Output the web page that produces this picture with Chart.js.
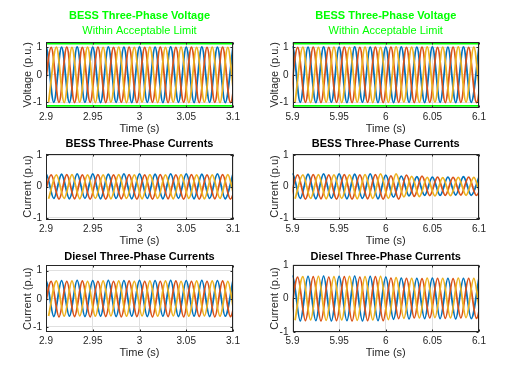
<!DOCTYPE html>
<html>
<head>
<meta charset="utf-8">
<script src="https://cdn.jsdelivr.net/npm/chart.js@4.4.1/dist/chart.umd.min.js"></script>
<style>
  html, body { margin: 0; padding: 0; background: #fff; }
  #fig { position: relative; width: 510px; height: 373px; overflow: hidden; }
  #fig canvas { position: absolute; }
</style>
</head>
<body>
<div id="fig">
  <canvas id="vLeft"></canvas>
  <canvas id="vRight"></canvas>
  <canvas id="iBessLeft"></canvas>
  <canvas id="iBessRight"></canvas>
  <canvas id="iDieselLeft"></canvas>
  <canvas id="iDieselRight"></canvas>
</div>
<script>
// Time axis ticks (s)
const leftTicks = [2.9, 2.95, 3, 3.05, 3.1];
const leftTickLabels = ['2.9', '2.95', '3', '3.05', '3.1'];
const rightTicks = [5.9, 5.95, 6, 6.05, 6.1];
const rightTickLabels = ['5.9', '5.95', '6', '6.05', '6.1'];
const yTicks = [-1, 0, 1];
const yTickLabels = ['-1', '0', '1'];

// Waveforms are stored as peak / trough values, one per half cycle (60 Hz)
const HALF_CYCLE = 1 / 120;
const PHASE_SHIFT = [0, 1 / 180, 2 / 180]; // phase a, b, c

// BESS voltage (p.u.), window 2.9 - 3.1 s
const vBessLeftA = [-1.01, 1.02, -1.01, 1.01, -1.02, 1.02, -1.01, 1.01, -1.02, 1.02, -1.01, 1.01, -1.02, 1.02, -1.01, 1.01, -1.02, 1.02, -1.01, 1.01, -1.02, 1.02, -1.01, 1.01, -1.02, 1.02];
const vBessLeftB = [-1.02, 1.00, -1.01, 1.01, -1.02, 1.00, -1.01, 1.01, -1.02, 1.00, -1.01, 1.01, -1.02, 1.00, -1.01, 1.01, -1.02, 1.00, -1.01, 1.01, -1.02, 1.00, -1.01, 1.01, -1.02, 1.00];
const vBessLeftC = [-1.00, 1.01, -1.02, 1.00, -1.00, 1.01, -1.02, 1.00, -1.00, 1.01, -1.02, 1.00, -1.00, 1.01, -1.02, 1.00, -1.00, 1.01, -1.02, 1.00, -1.00, 1.01, -1.02, 1.00, -1.00, 1.01];

// BESS voltage (p.u.), window 5.9 - 6.1 s
const vBessRightA = [-1.01, 1.02, -1.01, 1.01, -1.02, 1.02, -1.01, 1.01, -1.02, 1.02, -1.01, 1.01, -1.02, 1.01, -1.02, 1.02, -1.01, 1.01, -1.02, 1.02, -1.01, 1.01, -1.02, 1.02, -1.01, 1.01];
const vBessRightB = [-1.02, 1.00, -1.01, 1.01, -1.02, 1.00, -1.01, 1.01, -1.02, 1.00, -1.01, 1.01, -1.02, 1.01, -1.01, 1.00, -1.02, 1.01, -1.01, 1.00, -1.02, 1.01, -1.01, 1.00, -1.02, 1.01];
const vBessRightC = [-1.00, 1.01, -1.02, 1.00, -1.00, 1.01, -1.02, 1.00, -1.00, 1.01, -1.02, 1.00, -1.01, 1.02, -1.00, 1.01, -1.01, 1.02, -1.00, 1.01, -1.01, 1.02, -1.00, 1.01, -1.01, 1.02];

// Acceptable voltage band (p.u.)
const voltageLimits = [1.14, -1.14];

// BESS current (p.u.)
const iBessLeftA = [-0.38, 0.40, -0.38, 0.39, -0.39, 0.40, -0.38, 0.40, -0.39, 0.39, -0.38, 0.40, -0.39, 0.40, -0.38, 0.39, -0.39, 0.40, -0.38, 0.40, -0.39, 0.39, -0.38, 0.40, -0.39, 0.40];
const iBessLeftB = [-0.40, 0.37, -0.40, 0.38, -0.39, 0.37, -0.40, 0.38, -0.40, 0.37, -0.39, 0.38, -0.40, 0.37, -0.40, 0.38, -0.39, 0.37, -0.40, 0.38, -0.40, 0.37, -0.39, 0.38, -0.40, 0.37];
const iBessLeftC = [-0.39, 0.37, -0.38, 0.38, -0.39, 0.37, -0.38, 0.37, -0.39, 0.38, -0.38, 0.37, -0.39, 0.38, -0.38, 0.37, -0.39, 0.38, -0.38, 0.37, -0.39, 0.37, -0.38, 0.38, -0.39, 0.37];
const iBessRightA = [-0.38, 0.40, -0.38, 0.39, -0.39, 0.40, -0.38, 0.40, -0.39, 0.39, -0.38, 0.40, -0.39, 0.36, -0.34, 0.33, -0.30, 0.31, -0.28, 0.30, -0.28, 0.30, -0.27, 0.31, -0.28, 0.30];
const iBessRightB = [-0.40, 0.37, -0.40, 0.38, -0.39, 0.37, -0.40, 0.38, -0.40, 0.37, -0.39, 0.38, -0.40, 0.34, -0.40, 0.36, -0.31, 0.33, -0.29, 0.30, -0.28, 0.29, -0.27, 0.30, -0.28, 0.29];
const iBessRightC = [-0.39, 0.37, -0.38, 0.38, -0.39, 0.37, -0.38, 0.37, -0.39, 0.38, -0.38, 0.40, -0.38, 0.40, -0.33, 0.32, -0.32, 0.29, -0.30, 0.28, -0.29, 0.29, -0.28, 0.29, -0.29, 0.30];

// Diesel current (p.u.)
const iDieselLeftA = [-0.62, 0.65, -0.63, 0.64, -0.62, 0.65, -0.63, 0.64, -0.62, 0.65, -0.63, 0.64, -0.62, 0.65, -0.63, 0.64, -0.62, 0.65, -0.63, 0.64, -0.62, 0.65, -0.63, 0.64, -0.62, 0.65];
const iDieselLeftB = [-0.63, 0.62, -0.64, 0.62, -0.63, 0.63, -0.64, 0.62, -0.63, 0.62, -0.64, 0.63, -0.63, 0.62, -0.64, 0.62, -0.63, 0.63, -0.64, 0.62, -0.63, 0.62, -0.64, 0.63, -0.63, 0.62];
const iDieselLeftC = [-0.61, 0.63, -0.62, 0.63, -0.61, 0.62, -0.62, 0.63, -0.61, 0.63, -0.62, 0.62, -0.61, 0.63, -0.62, 0.63, -0.61, 0.62, -0.62, 0.63, -0.61, 0.63, -0.62, 0.62, -0.61, 0.63];
const iDieselRightA = [-0.66, 0.67, -0.67, 0.66, -0.66, 0.67, -0.67, 0.66, -0.66, 0.67, -0.67, 0.66, -0.66, 0.64, -0.62, 0.61, -0.61, 0.60, -0.60, 0.61, -0.60, 0.60, -0.61, 0.60, -0.60, 0.61];
const iDieselRightB = [-0.67, 0.64, -0.66, 0.65, -0.67, 0.64, -0.66, 0.65, -0.67, 0.64, -0.66, 0.65, -0.66, 0.61, -0.60, 0.60, -0.58, 0.59, -0.58, 0.60, -0.59, 0.59, -0.58, 0.60, -0.59, 0.59];
const iDieselRightC = [-0.65, 0.65, -0.64, 0.66, -0.65, 0.65, -0.64, 0.66, -0.65, 0.65, -0.64, 0.66, -0.63, 0.62, -0.59, 0.60, -0.58, 0.61, -0.57, 0.60, -0.58, 0.61, -0.57, 0.60, -0.58, 0.61];

// Look
const FONT = '"Liberation Sans", Arial, Helvetica, sans-serif';
const AXIS_COLOR = '#262626';
const GRID_COLOR = '#e0e0e0';
const GREEN = '#00ff00';
const PHASE_COLORS = ['#0072BD', '#D95319', '#EDB120'];

// Subplot placement (page pixels): canvas box and plot box [left, right, top, bottom]
const panels = [
    { id: 'vLeft', box: [0, 0, 255, 135], plot: [46, 233, 42, 107.5], titleY: 15.6, subtitleY: 31,
      title: 'BESS Three-Phase Voltage', subtitle: 'Within Acceptable Limit', yLabel: 'Voltage (p.u.)',
      yRange: [-1.2, 1.2], ticks: leftTicks, tickLabels: leftTickLabels, series: [vBessLeftA, vBessLeftB, vBessLeftC], limits: true },
    { id: 'vRight', box: [255, 0, 255, 135], plot: [292.5, 479, 42, 107.5], titleY: 15.6, subtitleY: 31,
      title: 'BESS Three-Phase Voltage', subtitle: 'Within Acceptable Limit', yLabel: 'Voltage (p.u.)',
      yRange: [-1.2, 1.2], ticks: rightTicks, tickLabels: rightTickLabels, series: [vBessRightA, vBessRightB, vBessRightC], limits: true },
    { id: 'iBessLeft', box: [0, 135, 255, 115], plot: [46, 233, 153.5, 219.5], titleY: 144,
      title: 'BESS Three-Phase Currents', yLabel: 'Current (p.u)',
      yRange: [-1.05, 1.05], ticks: leftTicks, tickLabels: leftTickLabels, series: [iBessLeftA, iBessLeftB, iBessLeftC] },
    { id: 'iBessRight', box: [255, 135, 255, 115], plot: [292.5, 479, 153.5, 219.5], titleY: 144,
      title: 'BESS Three-Phase Currents', yLabel: 'Current (p.u)',
      yRange: [-1.05, 1.05], ticks: rightTicks, tickLabels: rightTickLabels, series: [iBessRightA, iBessRightB, iBessRightC] },
    { id: 'iDieselLeft', box: [0, 250, 255, 123], plot: [46, 233, 265.5, 332], titleY: 256.7,
      title: 'Diesel Three-Phase Currents', yLabel: 'Current (p.u)',
      yRange: [-1.18, 1.18], ticks: leftTicks, tickLabels: leftTickLabels, series: [iDieselLeftA, iDieselLeftB, iDieselLeftC] },
    { id: 'iDieselRight', box: [255, 250, 255, 123], plot: [292.5, 479, 265, 332], titleY: 256.7,
      title: 'Diesel Three-Phase Currents', yLabel: 'Current (p.u)',
      yRange: [-1, 1], ticks: rightTicks, tickLabels: rightTickLabels, series: [iDieselRightA, iDieselRightB, iDieselRightC] }
];

// Peaks/troughs start one half cycle before the window
function phaseSeries(values, start, shift) {
    return values.map((v, i) => ({ x: start + shift + (i - 1) * HALF_CYCLE, y: v }));
}

// Box around the axes with inward tick marks (MATLAB style)
const axesBox = {
    id: 'axesBox',
    afterDatasetsDraw(chart) {
        const { ctx, chartArea: a, scales: { x, y } } = chart;
        const l = Math.round(a.left) + 0.5, r = Math.round(a.right) - 0.5;
        const t = Math.round(a.top) + 0.5, b = Math.round(a.bottom) - 0.5;
        ctx.save();
        ctx.strokeStyle = AXIS_COLOR;
        ctx.lineWidth = 1;
        ctx.strokeRect(l, t, r - l, b - t);
        ctx.beginPath();
        x.ticks.forEach(tk => {
            const px = Math.round(x.getPixelForValue(tk.value)) + 0.5;
            ctx.moveTo(px, b); ctx.lineTo(px, b - 2);
            ctx.moveTo(px, t); ctx.lineTo(px, t + 2);
        });
        y.ticks.forEach(tk => {
            const py = Math.round(y.getPixelForValue(tk.value)) + 0.5;
            ctx.moveTo(l, py); ctx.lineTo(l + 2, py);
            ctx.moveTo(r, py); ctx.lineTo(r - 2, py);
        });
        ctx.stroke();
        ctx.restore();
    }
};

function buildPanel(p) {
    const [cx, cy, cw, ch] = p.box;
    const [pl, pr, pt, pb] = p.plot;
    const canvas = document.getElementById(p.id);
    canvas.width = cw;
    canvas.height = ch;
    canvas.style.left = cx + 'px';
    canvas.style.top = cy + 'px';

    const titleLH = 11 * 1.2;
    const titlePadTop = p.titleY - cy - titleLH / 2;
    let titlePadBottom = 0, subPadTop = 0, subPadBottom = 0;
    if (p.subtitle) {
        const titleBottom = p.titleY + titleLH / 2;
        subPadTop = p.subtitleY - titleBottom - titleLH / 2;
        subPadBottom = pt - (p.subtitleY + titleLH / 2);
    } else {
        titlePadBottom = pt - (p.titleY + titleLH / 2);
    }

    const xStart = p.ticks[0];
    const datasets = p.series.map((vals, k) => ({
        data: phaseSeries(vals, xStart, PHASE_SHIFT[k]),
        borderColor: PHASE_COLORS[k],
        borderWidth: 1.8,
        pointRadius: 0,
        cubicInterpolationMode: 'monotone',
        order: 3 - k
    }));
    if (p.limits) {
        voltageLimits.forEach(v => {
            datasets.push({
                data: [{ x: p.ticks[0], y: v }, { x: p.ticks[p.ticks.length - 1], y: v }],
                borderColor: GREEN,
                borderWidth: 1.8,
                pointRadius: 0,
                order: 0
            });
        });
    }

    const xAxisHeight = (cy + ch) - pb;
    const yAxisWidth = pl - cx;

    new Chart(canvas, {
        type: 'line',
        data: { datasets },
        plugins: [axesBox],
        options: {
            responsive: false,
            animation: false,
            events: [],
            layout: { padding: { left: 0, right: (cx + cw) - pr, top: 0, bottom: 0 } },
            plugins: {
                legend: { display: false },
                tooltip: { enabled: false },
                title: {
                    display: true,
                    text: p.title,
                    color: p.limits ? GREEN : '#000',
                    fullSize: false,
                    font: { family: FONT, size: 11, weight: 'bold' },
                    padding: { top: titlePadTop, bottom: titlePadBottom }
                },
                subtitle: {
                    display: !!p.subtitle,
                    text: p.subtitle || '',
                    color: GREEN,
                    fullSize: false,
                    font: { family: FONT, size: 11 },
                    padding: { top: subPadTop, bottom: subPadBottom }
                }
            },
            scales: {
                x: {
                    type: 'linear',
                    min: p.ticks[0],
                    max: p.ticks[p.ticks.length - 1],
                    afterBuildTicks: s => { s.ticks = p.ticks.map(v => ({ value: v })); },
                    afterFit: s => { s.height = xAxisHeight; },
                    ticks: {
                        autoSkip: false,
                        maxRotation: 0,
                        padding: 3.5,
                        color: AXIS_COLOR,
                        font: { family: FONT, size: 10 },
                        callback: (v, i) => p.tickLabels[i]
                    },
                    grid: { color: GRID_COLOR, drawTicks: false },
                    border: { display: false },
                    title: {
                        display: true,
                        text: 'Time (s)',
                        color: AXIS_COLOR,
                        font: { family: FONT, size: 11 },
                        padding: { top: 0, bottom: (cy + ch) - (pb + 21) - titleLH / 2 }
                    }
                },
                y: {
                    min: p.yRange[0],
                    max: p.yRange[1],
                    afterBuildTicks: s => { s.ticks = yTicks.map(v => ({ value: v })); },
                    afterFit: s => { s.width = yAxisWidth; },
                    ticks: {
                        autoSkip: false,
                        padding: 4,
                        color: AXIS_COLOR,
                        font: { family: FONT, size: 10 },
                        callback: (v, i) => yTickLabels[i]
                    },
                    grid: { color: GRID_COLOR, drawTicks: false },
                    border: { display: false },
                    title: {
                        display: true,
                        text: p.yLabel,
                        color: AXIS_COLOR,
                        font: { family: FONT, size: 11 },
                        padding: { top: (pl - 18 - cx) - titleLH / 2, bottom: 0 }
                    }
                }
            }
        }
    });
}

panels.forEach(buildPanel);
</script>
</body>
</html>
